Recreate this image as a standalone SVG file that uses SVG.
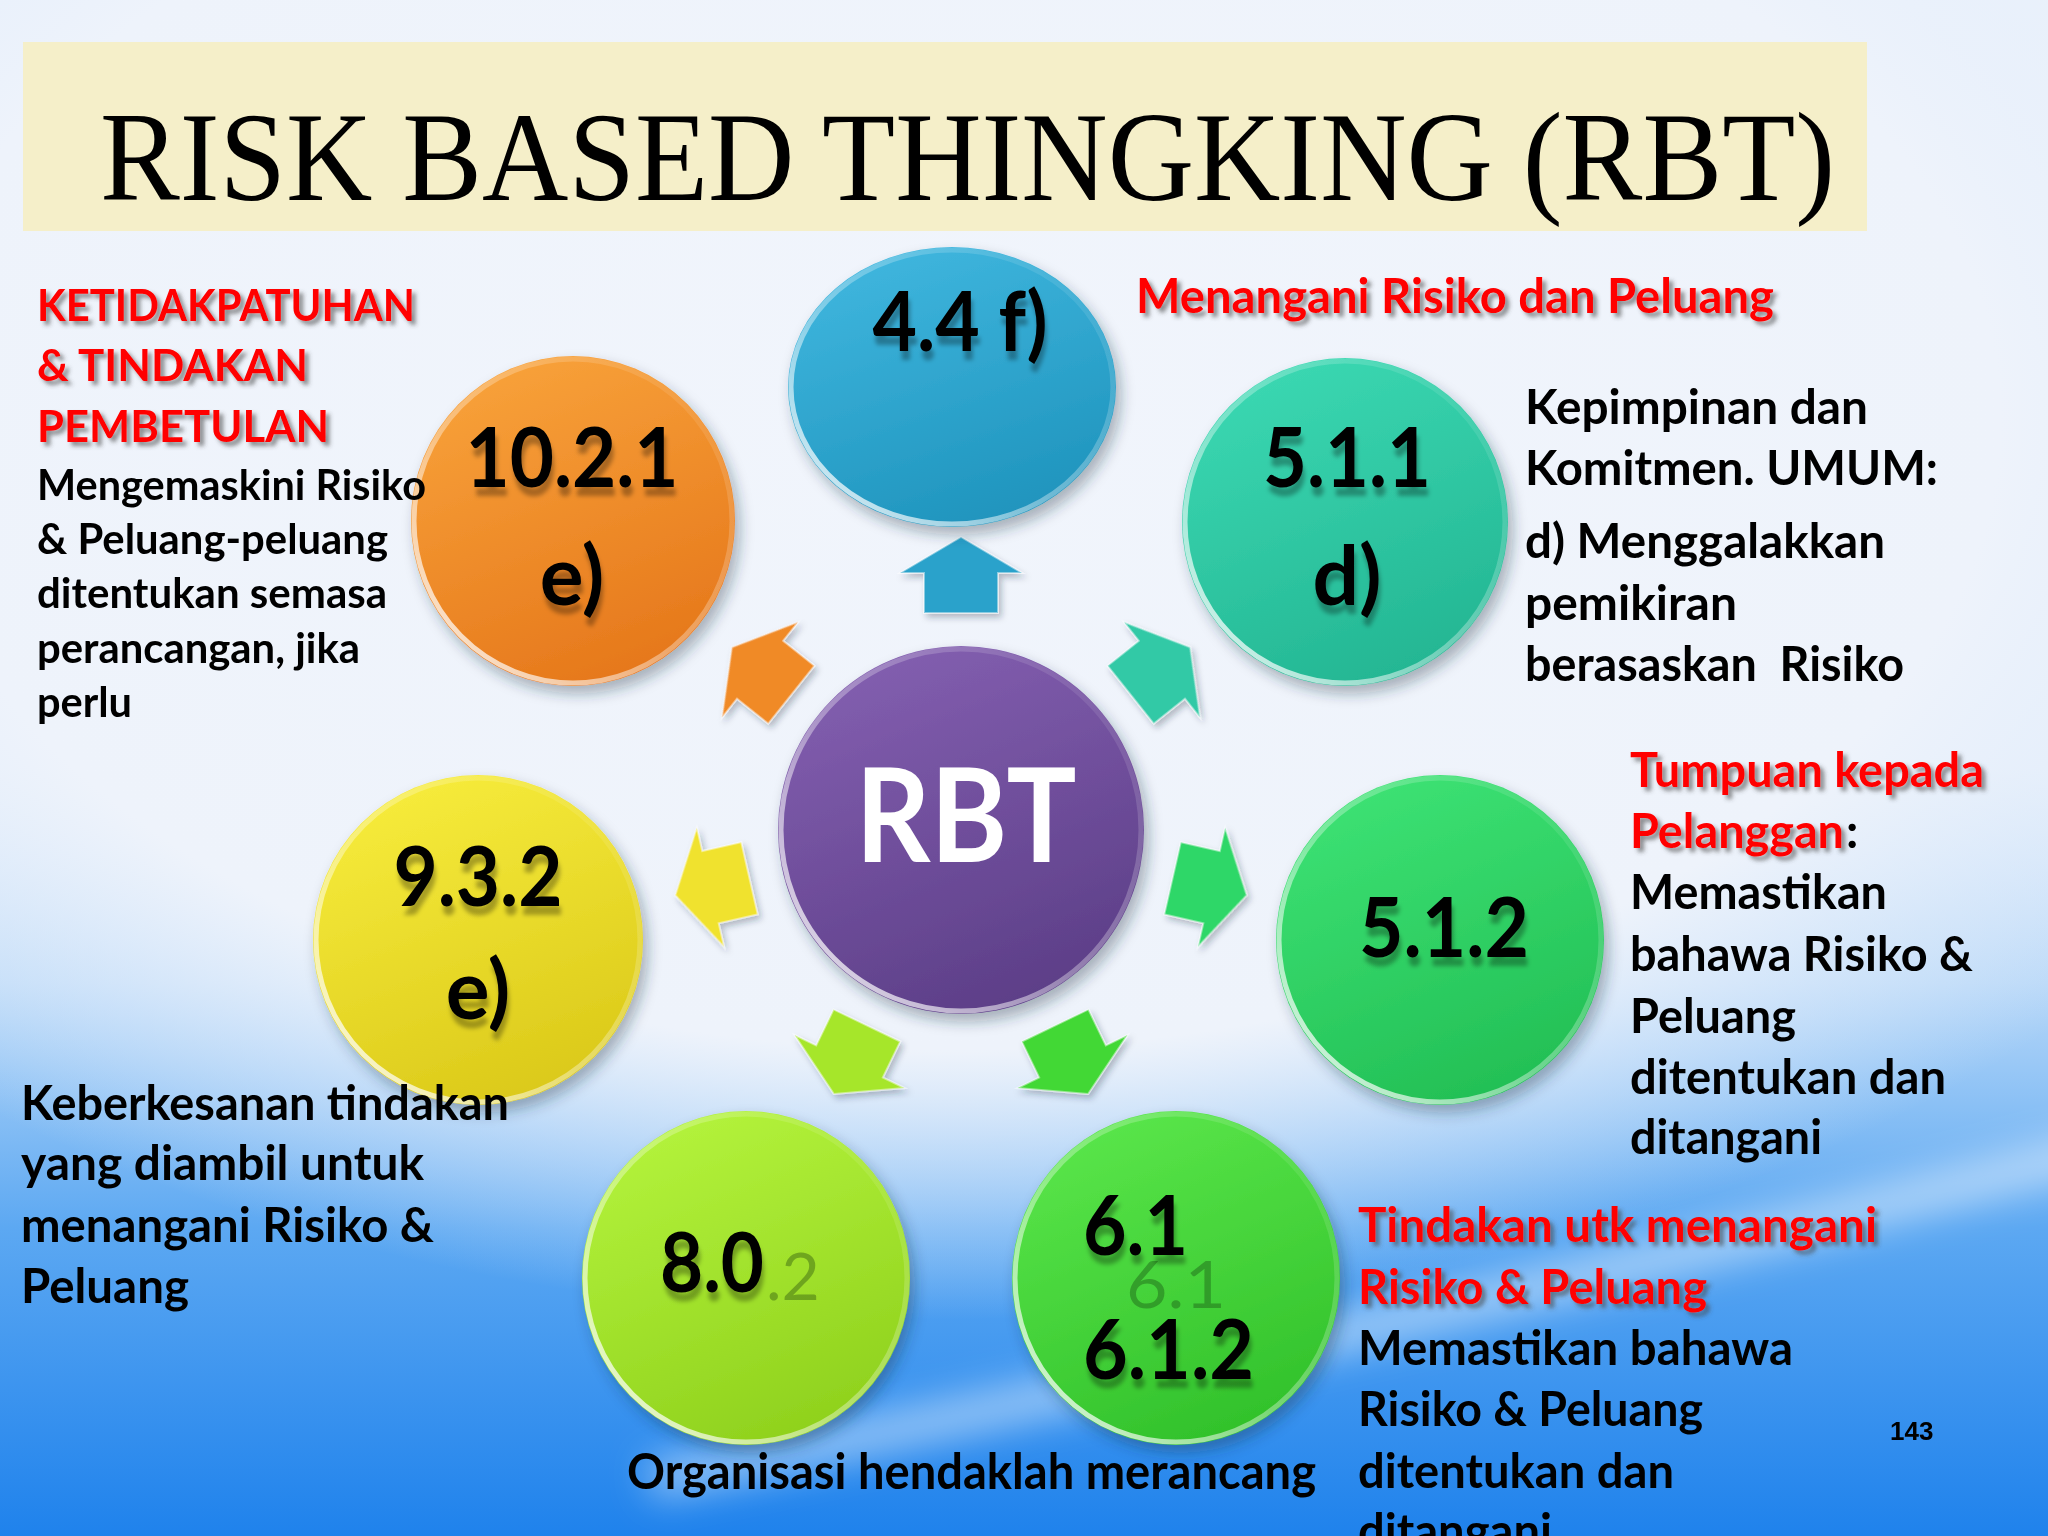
<svg xmlns="http://www.w3.org/2000/svg" width="2048" height="1536" viewBox="0 0 2048 1536">
<defs>
  <linearGradient id="bgv" x1="0" y1="0" x2="0" y2="1">
    <stop offset="0" stop-color="#eef3fb"/>
    <stop offset="0.5" stop-color="#e6effb"/>
    <stop offset="0.64" stop-color="#b8d8f8"/>
    <stop offset="0.8" stop-color="#5ca8f2"/>
    <stop offset="1" stop-color="#1f82ec"/>
  </linearGradient>
  <radialGradient id="glow" cx="0.5" cy="0.5" r="0.5">
    <stop offset="0" stop-color="#f1f5fc" stop-opacity="1"/>
    <stop offset="0.7" stop-color="#eef3fb" stop-opacity="1"/>
    <stop offset="0.86" stop-color="#e4eefb" stop-opacity="0.5"/>
    <stop offset="1" stop-color="#e4eefb" stop-opacity="0"/>
  </radialGradient>
  <linearGradient id="rim" x1="0" y1="1" x2="1" y2="0">
    <stop offset="0" stop-color="#ffffff" stop-opacity="0.9"/>
    <stop offset="0.45" stop-color="#ffffff" stop-opacity="0.35"/>
    <stop offset="1" stop-color="#ffffff" stop-opacity="0"/>
  </linearGradient>
  <linearGradient id="g1" x1="0.3" y1="0" x2="0.7" y2="1"><stop offset="0" stop-color="#3fb6de"/><stop offset="1" stop-color="#1e93bc"/></linearGradient>
  <linearGradient id="g2" x1="0.3" y1="0" x2="0.7" y2="1"><stop offset="0" stop-color="#f8a23a"/><stop offset="1" stop-color="#e5761a"/></linearGradient>
  <linearGradient id="g3" x1="0.3" y1="0" x2="0.7" y2="1"><stop offset="0" stop-color="#3bd8b2"/><stop offset="1" stop-color="#23b592"/></linearGradient>
  <linearGradient id="g4" x1="0.3" y1="0" x2="0.7" y2="1"><stop offset="0" stop-color="#835fb0"/><stop offset="1" stop-color="#5b3d86"/></linearGradient>
  <linearGradient id="g5" x1="0.3" y1="0" x2="0.7" y2="1"><stop offset="0" stop-color="#f7ec3c"/><stop offset="1" stop-color="#dac818"/></linearGradient>
  <linearGradient id="g6" x1="0.3" y1="0" x2="0.7" y2="1"><stop offset="0" stop-color="#3de274"/><stop offset="1" stop-color="#22be54"/></linearGradient>
  <linearGradient id="g7" x1="0.3" y1="0" x2="0.7" y2="1"><stop offset="0" stop-color="#b4f33c"/><stop offset="1" stop-color="#8ed01c"/></linearGradient>
  <linearGradient id="g8" x1="0.3" y1="0" x2="0.7" y2="1"><stop offset="0" stop-color="#5ae64a"/><stop offset="1" stop-color="#30c02a"/></linearGradient>
  <filter id="csh" x="-20%" y="-20%" width="150%" height="150%">
    <feDropShadow dx="5" dy="8" stdDeviation="7" flood-color="#203040" flood-opacity="0.35"/>
  </filter>
  <filter id="ash" x="-30%" y="-30%" width="160%" height="160%">
    <feDropShadow dx="3" dy="4" stdDeviation="3" flood-color="#203040" flood-opacity="0.3"/>
  </filter>
  <filter id="tsh" x="-5%" y="-20%" width="115%" height="150%">
    <feDropShadow dx="4" dy="4" stdDeviation="2" flood-color="#444444" flood-opacity="0.6"/>
  </filter>
  <filter id="nsh" x="-10%" y="-20%" width="130%" height="160%">
    <feDropShadow dx="2" dy="9" stdDeviation="2" flood-color="#000000" flood-opacity="0.3"/>
  </filter>
  <filter id="blur" x="-20%" y="-50%" width="140%" height="200%">
    <feGaussianBlur stdDeviation="18"/>
  </filter>
  <style>
    .t { font-family: Lato, "Open Sans", "Liberation Sans", sans-serif; font-weight: 700; }
    .red { fill: #ff0000; }
    .blk { fill: #000000; }
    .s42 { font-size: 42px; }
    .s44 { font-size: 44px; }
    .s47 { font-size: 47px; }
    .s48 { font-size: 48px; }
    .num { font-family: Lato, "Open Sans", "Liberation Sans", sans-serif; font-weight: 700; font-size: 82px; fill: #000000; text-anchor: middle; }
    .num.st { text-anchor: start; }
    .ghost { font-family: Lato, "Open Sans", "Liberation Sans", sans-serif; font-weight: 400; font-size: 66px; }
    .disc-rim { fill: none; stroke: url(#rim); stroke-width: 5; }
    .arrow { stroke: #ffffff; stroke-opacity: 0.45; stroke-width: 2; }
  </style>
</defs>

<!-- background -->
<rect x="0" y="0" width="2048" height="1536" fill="url(#bgv)"/>
<ellipse cx="950" cy="420" rx="1500" ry="900" fill="url(#glow)"/>
<path d="M 650 1480 Q 1400 1330 2100 1150" fill="none" stroke="#ffffff" stroke-opacity="0.45" stroke-width="40" filter="url(#blur)"/>

<!-- title -->
<g id="title">
  <rect x="23" y="42" width="1844" height="189" fill="#f5efc9"/>
  <text x="100" y="200" font-family="'Liberation Serif', 'DejaVu Serif', serif" font-size="128" fill="#000000" textLength="1735" lengthAdjust="spacingAndGlyphs">RISK BASED THINGKING (RBT)</text>
</g>

<!-- connectors (block arrows radiating from RBT) -->
<g id="connectors" filter="url(#ash)">
  <polygon class="arrow" transform="translate(961 830) rotate(0)" fill="#2aa2cb" points="0,-293 61,-257 37,-257 37,-217 -37,-217 -37,-257 -61,-257"/>
  <polygon class="arrow" transform="translate(961 830) rotate(51.43)" fill="#30c9a6" points="0,-293 61,-257 37,-257 37,-217 -37,-217 -37,-257 -61,-257"/>
  <polygon class="arrow" transform="translate(961 830) rotate(102.86)" fill="#2ed767" points="0,-293 61,-257 37,-257 37,-217 -37,-217 -37,-257 -61,-257"/>
  <polygon class="arrow" transform="translate(961 830) rotate(154.29)" fill="#42d836" points="0,-293 61,-257 37,-257 37,-217 -37,-217 -37,-257 -61,-257"/>
  <polygon class="arrow" transform="translate(961 830) rotate(205.71)" fill="#a6e62c" points="0,-293 61,-257 37,-257 37,-217 -37,-217 -37,-257 -61,-257"/>
  <polygon class="arrow" transform="translate(961 830) rotate(257.14)" fill="#f0e22e" points="0,-293 61,-257 37,-257 37,-217 -37,-217 -37,-257 -61,-257"/>
  <polygon class="arrow" transform="translate(961 830) rotate(308.57)" fill="#f08a28" points="0,-293 61,-257 37,-257 37,-217 -37,-217 -37,-257 -61,-257"/>
</g>

<!-- nodes -->
<g id="node-4-4f">
  <ellipse cx="952" cy="387" rx="164" ry="140" fill="url(#g1)" filter="url(#csh)"/>
  <ellipse cx="952" cy="387" rx="161" ry="137" class="disc-rim"/>
  <text class="num" x="960" y="351" font-size="76" textLength="175" lengthAdjust="spacingAndGlyphs" filter="url(#nsh)">4.4 f)</text>
</g>

<g id="node-10-2-1">
  <ellipse cx="573" cy="521" rx="162" ry="165" fill="url(#g2)" filter="url(#csh)"/>
  <ellipse cx="573" cy="521" rx="159" ry="162" class="disc-rim"/>
  <g filter="url(#nsh)">
    <text class="num" x="572" y="487" textLength="213" lengthAdjust="spacingAndGlyphs">10.2.1</text>
    <text class="num" x="572" y="605">e)</text>
  </g>
</g>

<g id="node-5-1-1">
  <ellipse cx="1345" cy="522" rx="163" ry="164" fill="url(#g3)" filter="url(#csh)"/>
  <ellipse cx="1345" cy="522" rx="160" ry="161" class="disc-rim"/>
  <g filter="url(#nsh)">
    <text class="num" x="1347" y="487" textLength="168" lengthAdjust="spacingAndGlyphs">5.1.1</text>
    <text class="num" x="1347" y="605">d)</text>
  </g>
</g>

<g id="node-rbt">
  <ellipse cx="961" cy="830" rx="183" ry="184" fill="url(#g4)" filter="url(#csh)"/>
  <ellipse cx="961" cy="830" rx="180" ry="181" class="disc-rim"/>
  <text x="966" y="862" font-family="Lato, 'Open Sans', sans-serif" font-weight="700" font-size="130" fill="#ffffff" text-anchor="middle" textLength="221" lengthAdjust="spacingAndGlyphs">RBT</text>
</g>

<g id="node-9-3-2">
  <ellipse cx="478" cy="940" rx="165" ry="165" fill="url(#g5)" filter="url(#csh)"/>
  <ellipse cx="478" cy="940" rx="162" ry="162" class="disc-rim"/>
  <g filter="url(#nsh)">
    <text class="num" x="478" y="906" textLength="169" lengthAdjust="spacingAndGlyphs">9.3.2</text>
    <text class="num" x="478" y="1019">e)</text>
  </g>
</g>

<g id="node-5-1-2">
  <ellipse cx="1440" cy="940" rx="164" ry="165" fill="url(#g6)" filter="url(#csh)"/>
  <ellipse cx="1440" cy="940" rx="161" ry="162" class="disc-rim"/>
  <text class="num" x="1444" y="957" textLength="170" lengthAdjust="spacingAndGlyphs" filter="url(#nsh)">5.1.2</text>
</g>

<g id="node-8-0">
  <ellipse cx="746" cy="1278" rx="164" ry="167" fill="url(#g7)" filter="url(#csh)"/>
  <ellipse cx="746" cy="1278" rx="161" ry="164" class="disc-rim"/>
  <text class="ghost" x="766" y="1300" fill="#3d6a12" fill-opacity="0.5">.2</text>
  <text class="num st" x="660" y="1292" textLength="104" lengthAdjust="spacingAndGlyphs" filter="url(#nsh)">8.0</text>
</g>

<g id="node-6-1">
  <ellipse cx="1176" cy="1278" rx="164" ry="167" fill="url(#g8)" filter="url(#csh)"/>
  <ellipse cx="1176" cy="1278" rx="161" ry="164" class="disc-rim"/>
  <text class="ghost" x="1126" y="1308" fill="#1f6a1a" fill-opacity="0.5" textLength="100" lengthAdjust="spacingAndGlyphs">6.1</text>
  <g filter="url(#nsh)">
    <text class="num st" x="1083" y="1255" textLength="105" lengthAdjust="spacingAndGlyphs">6.1</text>
    <text class="num st" x="1083" y="1379" textLength="171" lengthAdjust="spacingAndGlyphs">6.1.2</text>
  </g>
</g>

<!-- annotations -->
<g id="note-10-2-1" class="t">
  <g filter="url(#tsh)" class="red s44">
    <text x="37" y="321" textLength="378" lengthAdjust="spacingAndGlyphs">KETIDAKPATUHAN</text>
    <text x="37" y="381" textLength="271" lengthAdjust="spacingAndGlyphs">&amp; TINDAKAN</text>
    <text x="37" y="442" textLength="292" lengthAdjust="spacingAndGlyphs">PEMBETULAN</text>
  </g>
  <g class="blk s42">
    <text x="37" y="500" textLength="389" lengthAdjust="spacingAndGlyphs">Mengemaskini Risiko</text>
    <text x="37" y="554" textLength="351" lengthAdjust="spacingAndGlyphs">&amp; Peluang-peluang</text>
    <text x="37" y="608" textLength="350" lengthAdjust="spacingAndGlyphs">ditentukan semasa</text>
    <text x="37" y="663" textLength="323" lengthAdjust="spacingAndGlyphs">perancangan, jika</text>
    <text x="37" y="717" textLength="95" lengthAdjust="spacingAndGlyphs">perlu</text>
  </g>
</g>

<g id="note-4-4f" class="t">
  <text x="1136" y="313" class="red s47" filter="url(#tsh)" textLength="638" lengthAdjust="spacingAndGlyphs">Menangani Risiko dan Peluang</text>
</g>

<g id="note-5-1-1" class="t blk s48">
  <text x="1525" y="424" textLength="343" lengthAdjust="spacingAndGlyphs">Kepimpinan dan</text>
  <text x="1525" y="485" textLength="413" lengthAdjust="spacingAndGlyphs">Komitmen. UMUM:</text>
  <text x="1525" y="558" textLength="360" lengthAdjust="spacingAndGlyphs">d) Menggalakkan</text>
  <text x="1525" y="620" textLength="212" lengthAdjust="spacingAndGlyphs">pemikiran</text>
  <text x="1525" y="681" xml:space="preserve" textLength="379" lengthAdjust="spacingAndGlyphs">berasaskan  Risiko</text>
</g>

<g id="note-5-1-2" class="t s48">
  <g filter="url(#tsh)" class="red">
    <text x="1630" y="787" textLength="354" lengthAdjust="spacingAndGlyphs">Tumpuan kepada</text>
    <text x="1630" y="848" textLength="214" lengthAdjust="spacingAndGlyphs">Pelanggan</text>
  </g>
  <g class="blk">
    <text x="1846" y="848">:</text>
    <text x="1630" y="909" textLength="257" lengthAdjust="spacingAndGlyphs">Memastikan</text>
    <text x="1630" y="971" textLength="343" lengthAdjust="spacingAndGlyphs">bahawa Risiko &amp;</text>
    <text x="1630" y="1033" textLength="166" lengthAdjust="spacingAndGlyphs">Peluang</text>
    <text x="1630" y="1094" textLength="316" lengthAdjust="spacingAndGlyphs">ditentukan dan</text>
    <text x="1630" y="1154" textLength="192" lengthAdjust="spacingAndGlyphs">ditangani</text>
  </g>
</g>

<g id="note-9-3-2" class="t blk s48">
  <text x="21" y="1120" textLength="488" lengthAdjust="spacingAndGlyphs">Keberkesanan tindakan</text>
  <text x="21" y="1180" textLength="403" lengthAdjust="spacingAndGlyphs">yang diambil untuk</text>
  <text x="21" y="1242" textLength="413" lengthAdjust="spacingAndGlyphs">menangani Risiko &amp;</text>
  <text x="21" y="1303" textLength="168" lengthAdjust="spacingAndGlyphs">Peluang</text>
</g>

<g id="note-8-0" class="t blk">
  <text x="627" y="1489" font-size="49" textLength="689" lengthAdjust="spacingAndGlyphs">Organisasi hendaklah merancang</text>
</g>

<g id="note-6-1" class="t s48">
  <g filter="url(#tsh)" class="red">
    <text x="1358" y="1242" textLength="519" lengthAdjust="spacingAndGlyphs">Tindakan utk menangani</text>
    <text x="1358" y="1304" textLength="349" lengthAdjust="spacingAndGlyphs">Risiko &amp; Peluang</text>
  </g>
  <g class="blk">
    <text x="1358" y="1365" textLength="435" lengthAdjust="spacingAndGlyphs">Memastikan bahawa</text>
    <text x="1358" y="1426" textLength="345" lengthAdjust="spacingAndGlyphs">Risiko &amp; Peluang</text>
    <text x="1358" y="1488" textLength="316" lengthAdjust="spacingAndGlyphs">ditentukan dan</text>
    <text x="1358" y="1548" textLength="194" lengthAdjust="spacingAndGlyphs">ditangani</text>
  </g>
</g>

<g id="page-number">
  <text x="1890" y="1440" font-family="'Liberation Sans', Arial, sans-serif" font-weight="700" font-size="26" fill="#000000">143</text>
</g>
</svg>
